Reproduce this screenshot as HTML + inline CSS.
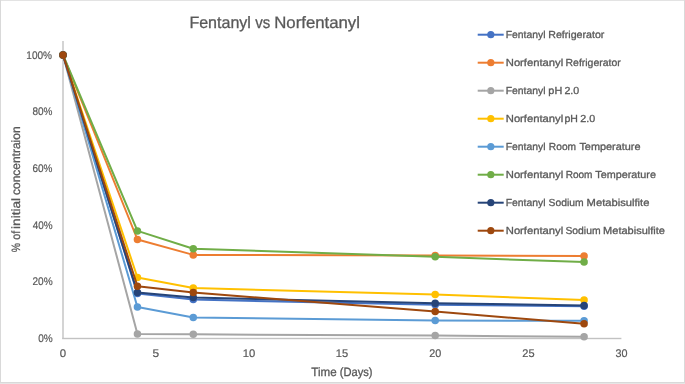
<!DOCTYPE html><html><head><meta charset="utf-8"><title>Fentanyl vs Norfentanyl</title><style>
html,body{margin:0;padding:0;background:#fff;width:685px;height:384px;overflow:hidden}
svg{display:block;position:absolute;left:0;top:0;text-rendering:geometricPrecision}
text{font-family:'Liberation Sans', Arial, sans-serif;fill:#595959;stroke:#595959;stroke-width:0.3px}
</style></head><body>
<svg width="685" height="384" viewBox="0 0 685 384">
<rect x="0" y="0" width="685" height="384" fill="#fff"/>
<rect x="0" y="0" width="685" height="1" fill="#e3e3e3"/>
<rect x="0" y="0" width="1" height="384" fill="#d9d9d9"/>
<rect x="684" y="0" width="1" height="384" fill="#d9d9d9"/>
<rect x="0" y="382" width="685" height="1" fill="#d9d9d9"/>
<rect x="0" y="383" width="685" height="1" fill="#e6e6e6"/>
<rect x="62.1" y="41" width="1.8" height="297.5" fill="#d0d0d0"/>
<rect x="62.1" y="337.8" width="559.3" height="1.4" fill="#c2c2c2"/>
<text x="189.40" y="28.00" font-size="16.5" textLength="61.55" lengthAdjust="spacingAndGlyphs">Fentanyl</text>
<text x="255.20" y="28.00" font-size="16.5" textLength="15.04" lengthAdjust="spacingAndGlyphs">vs</text>
<text x="274.26" y="28.00" font-size="16.5" textLength="85.73" lengthAdjust="spacingAndGlyphs">Norfentanyl</text>
<text x="505.77" y="38.00" font-size="10.2" textLength="39.73" lengthAdjust="spacingAndGlyphs">Fentanyl</text>
<text x="548.20" y="38.00" font-size="10.2" textLength="56.22" lengthAdjust="spacingAndGlyphs">Refrigerator</text>
<text x="505.77" y="66.00" font-size="10.2" textLength="57.45" lengthAdjust="spacingAndGlyphs">Norfentanyl</text>
<text x="565.57" y="66.00" font-size="10.2" textLength="55.17" lengthAdjust="spacingAndGlyphs">Refrigerator</text>
<text x="505.77" y="94.00" font-size="10.2" textLength="39.73" lengthAdjust="spacingAndGlyphs">Fentanyl</text>
<text x="548.39" y="94.00" font-size="10.2" textLength="13.90" lengthAdjust="spacingAndGlyphs">pH</text>
<text x="564.42" y="94.00" font-size="10.2" textLength="14.79" lengthAdjust="spacingAndGlyphs">2.0</text>
<text x="505.77" y="122.00" font-size="10.2" textLength="57.45" lengthAdjust="spacingAndGlyphs">Norfentanyl</text>
<text x="564.41" y="122.00" font-size="10.2" textLength="13.45" lengthAdjust="spacingAndGlyphs">pH</text>
<text x="580.38" y="122.00" font-size="10.2" textLength="14.87" lengthAdjust="spacingAndGlyphs">2.0</text>
<text x="505.77" y="150.00" font-size="10.2" textLength="39.73" lengthAdjust="spacingAndGlyphs">Fentanyl</text>
<text x="548.87" y="150.00" font-size="10.2" textLength="27.18" lengthAdjust="spacingAndGlyphs">Room</text>
<text x="579.42" y="150.00" font-size="10.2" textLength="61.14" lengthAdjust="spacingAndGlyphs">Temperature</text>
<text x="505.77" y="178.00" font-size="10.2" textLength="57.45" lengthAdjust="spacingAndGlyphs">Norfentanyl</text>
<text x="565.66" y="178.00" font-size="10.2" textLength="26.84" lengthAdjust="spacingAndGlyphs">Room</text>
<text x="595.35" y="178.00" font-size="10.2" textLength="60.59" lengthAdjust="spacingAndGlyphs">Temperature</text>
<text x="505.77" y="206.00" font-size="10.2" textLength="39.73" lengthAdjust="spacingAndGlyphs">Fentanyl</text>
<text x="548.54" y="206.00" font-size="10.2" textLength="35.01" lengthAdjust="spacingAndGlyphs">Sodium</text>
<text x="586.64" y="206.00" font-size="10.2" textLength="62.74" lengthAdjust="spacingAndGlyphs">Metabisulfite</text>
<text x="505.77" y="234.00" font-size="10.2" textLength="57.45" lengthAdjust="spacingAndGlyphs">Norfentanyl</text>
<text x="565.42" y="234.00" font-size="10.2" textLength="35.14" lengthAdjust="spacingAndGlyphs">Sodium</text>
<text x="603.14" y="234.00" font-size="10.2" textLength="61.78" lengthAdjust="spacingAndGlyphs">Metabisulfite</text>
<text x="26.36" y="59.00" font-size="11" textLength="25.70" lengthAdjust="spacingAndGlyphs" style="stroke-width:0.2px">100%</text>
<text x="32.39" y="115.00" font-size="11" textLength="19.98" lengthAdjust="spacingAndGlyphs" style="stroke-width:0.2px">80%</text>
<text x="32.48" y="172.00" font-size="11" textLength="19.96" lengthAdjust="spacingAndGlyphs" style="stroke-width:0.2px">60%</text>
<text x="32.65" y="229.00" font-size="11" textLength="19.87" lengthAdjust="spacingAndGlyphs" style="stroke-width:0.2px">40%</text>
<text x="32.46" y="285.00" font-size="11" textLength="20.17" lengthAdjust="spacingAndGlyphs" style="stroke-width:0.2px">20%</text>
<text x="38.26" y="342.00" font-size="11" textLength="14.50" lengthAdjust="spacingAndGlyphs" style="stroke-width:0.2px">0%</text>
<text x="59.85" y="357.00" font-size="11" textLength="6.36" lengthAdjust="spacingAndGlyphs" style="stroke-width:0.2px">0</text>
<text x="152.61" y="357.00" font-size="11" textLength="6.64" lengthAdjust="spacingAndGlyphs" style="stroke-width:0.2px">5</text>
<text x="242.70" y="357.00" font-size="11" textLength="12.52" lengthAdjust="spacingAndGlyphs" style="stroke-width:0.2px">10</text>
<text x="335.87" y="357.00" font-size="11" textLength="12.39" lengthAdjust="spacingAndGlyphs" style="stroke-width:0.2px">15</text>
<text x="429.22" y="357.00" font-size="11" textLength="12.05" lengthAdjust="spacingAndGlyphs" style="stroke-width:0.2px">20</text>
<text x="522.26" y="357.00" font-size="11" textLength="12.27" lengthAdjust="spacingAndGlyphs" style="stroke-width:0.2px">25</text>
<text x="615.39" y="357.00" font-size="11" textLength="12.02" lengthAdjust="spacingAndGlyphs" style="stroke-width:0.2px">30</text>
<text x="311.33" y="376.00" font-size="12" textLength="25.39" lengthAdjust="spacingAndGlyphs">Time</text>
<text x="339.77" y="376.00" font-size="12" textLength="32.83" lengthAdjust="spacingAndGlyphs">(Days)</text>
<text transform="translate(19.60,252.22) rotate(-90)" x="0" y="0" font-size="12" textLength="9.22" lengthAdjust="spacingAndGlyphs">%</text>
<text transform="translate(19.60,239.72) rotate(-90)" x="0" y="0" font-size="12" textLength="8.88" lengthAdjust="spacingAndGlyphs">of</text>
<text transform="translate(19.60,228.91) rotate(-90)" x="0" y="0" font-size="12" textLength="30.90" lengthAdjust="spacingAndGlyphs">initial</text>
<text transform="translate(19.60,195.01) rotate(-90)" x="0" y="0" font-size="12" textLength="68.58" lengthAdjust="spacingAndGlyphs">concentraion</text>
<polyline points="63.00,55.00 137.44,293.60 193.27,299.60 435.20,304.80 584.08,306.20" fill="none" stroke="#4472C4" stroke-width="2.00" stroke-linejoin="round" stroke-linecap="round"/>
<circle cx="63.00" cy="55.00" r="3.75" fill="#4472C4"/>
<circle cx="137.44" cy="293.60" r="3.75" fill="#4472C4"/>
<circle cx="193.27" cy="299.60" r="3.75" fill="#4472C4"/>
<circle cx="435.20" cy="304.80" r="3.75" fill="#4472C4"/>
<circle cx="584.08" cy="306.20" r="3.75" fill="#4472C4"/>
<polyline points="63.00,55.00 137.44,239.50 193.27,254.90 435.20,255.60 584.08,256.10" fill="none" stroke="#ED7D31" stroke-width="2.00" stroke-linejoin="round" stroke-linecap="round"/>
<circle cx="63.00" cy="55.00" r="3.75" fill="#ED7D31"/>
<circle cx="137.44" cy="239.50" r="3.75" fill="#ED7D31"/>
<circle cx="193.27" cy="254.90" r="3.75" fill="#ED7D31"/>
<circle cx="435.20" cy="255.60" r="3.75" fill="#ED7D31"/>
<circle cx="584.08" cy="256.10" r="3.75" fill="#ED7D31"/>
<polyline points="63.00,55.00 137.44,333.90 193.27,334.30 435.20,335.60 584.08,336.70" fill="none" stroke="#A5A5A5" stroke-width="2.00" stroke-linejoin="round" stroke-linecap="round"/>
<circle cx="63.00" cy="55.00" r="3.75" fill="#A5A5A5"/>
<circle cx="137.44" cy="333.90" r="3.75" fill="#A5A5A5"/>
<circle cx="193.27" cy="334.30" r="3.75" fill="#A5A5A5"/>
<circle cx="435.20" cy="335.60" r="3.75" fill="#A5A5A5"/>
<circle cx="584.08" cy="336.70" r="3.75" fill="#A5A5A5"/>
<polyline points="63.00,55.00 137.44,277.50 193.27,288.00 435.20,294.60 584.08,300.10" fill="none" stroke="#FFC000" stroke-width="2.00" stroke-linejoin="round" stroke-linecap="round"/>
<circle cx="63.00" cy="55.00" r="3.75" fill="#FFC000"/>
<circle cx="137.44" cy="277.50" r="3.75" fill="#FFC000"/>
<circle cx="193.27" cy="288.00" r="3.75" fill="#FFC000"/>
<circle cx="435.20" cy="294.60" r="3.75" fill="#FFC000"/>
<circle cx="584.08" cy="300.10" r="3.75" fill="#FFC000"/>
<polyline points="63.00,55.00 137.44,307.00 193.27,317.60 435.20,320.50 584.08,320.80" fill="none" stroke="#5B9BD5" stroke-width="2.00" stroke-linejoin="round" stroke-linecap="round"/>
<circle cx="63.00" cy="55.00" r="3.75" fill="#5B9BD5"/>
<circle cx="137.44" cy="307.00" r="3.75" fill="#5B9BD5"/>
<circle cx="193.27" cy="317.60" r="3.75" fill="#5B9BD5"/>
<circle cx="435.20" cy="320.50" r="3.75" fill="#5B9BD5"/>
<circle cx="584.08" cy="320.80" r="3.75" fill="#5B9BD5"/>
<polyline points="63.00,55.00 137.44,230.90 193.27,248.70 435.20,256.80 584.08,262.10" fill="none" stroke="#70AD47" stroke-width="2.00" stroke-linejoin="round" stroke-linecap="round"/>
<circle cx="63.00" cy="55.00" r="3.75" fill="#70AD47"/>
<circle cx="137.44" cy="230.90" r="3.75" fill="#70AD47"/>
<circle cx="193.27" cy="248.70" r="3.75" fill="#70AD47"/>
<circle cx="435.20" cy="256.80" r="3.75" fill="#70AD47"/>
<circle cx="584.08" cy="262.10" r="3.75" fill="#70AD47"/>
<polyline points="63.00,55.00 137.44,292.60 193.27,297.60 435.20,303.30 584.08,305.40" fill="none" stroke="#264478" stroke-width="2.00" stroke-linejoin="round" stroke-linecap="round"/>
<circle cx="63.00" cy="55.00" r="3.75" fill="#264478"/>
<circle cx="137.44" cy="292.60" r="3.75" fill="#264478"/>
<circle cx="193.27" cy="297.60" r="3.75" fill="#264478"/>
<circle cx="435.20" cy="303.30" r="3.75" fill="#264478"/>
<circle cx="584.08" cy="305.40" r="3.75" fill="#264478"/>
<polyline points="63.00,55.00 137.44,286.30 193.27,292.50 435.20,311.50 584.08,323.70" fill="none" stroke="#9E480E" stroke-width="2.00" stroke-linejoin="round" stroke-linecap="round"/>
<circle cx="63.00" cy="55.00" r="3.75" fill="#9E480E"/>
<circle cx="137.44" cy="286.30" r="3.75" fill="#9E480E"/>
<circle cx="193.27" cy="292.50" r="3.75" fill="#9E480E"/>
<circle cx="435.20" cy="311.50" r="3.75" fill="#9E480E"/>
<circle cx="584.08" cy="323.70" r="3.75" fill="#9E480E"/>
<line x1="477.7" y1="34.70" x2="503.7" y2="34.70" stroke="#4472C4" stroke-width="2"/>
<circle cx="490.8" cy="34.70" r="3.6" fill="#4472C4"/>
<line x1="477.7" y1="62.70" x2="503.7" y2="62.70" stroke="#ED7D31" stroke-width="2"/>
<circle cx="490.8" cy="62.70" r="3.6" fill="#ED7D31"/>
<line x1="477.7" y1="90.70" x2="503.7" y2="90.70" stroke="#A5A5A5" stroke-width="2"/>
<circle cx="490.8" cy="90.70" r="3.6" fill="#A5A5A5"/>
<line x1="477.7" y1="118.70" x2="503.7" y2="118.70" stroke="#FFC000" stroke-width="2"/>
<circle cx="490.8" cy="118.70" r="3.6" fill="#FFC000"/>
<line x1="477.7" y1="146.70" x2="503.7" y2="146.70" stroke="#5B9BD5" stroke-width="2"/>
<circle cx="490.8" cy="146.70" r="3.6" fill="#5B9BD5"/>
<line x1="477.7" y1="174.70" x2="503.7" y2="174.70" stroke="#70AD47" stroke-width="2"/>
<circle cx="490.8" cy="174.70" r="3.6" fill="#70AD47"/>
<line x1="477.7" y1="202.70" x2="503.7" y2="202.70" stroke="#264478" stroke-width="2"/>
<circle cx="490.8" cy="202.70" r="3.6" fill="#264478"/>
<line x1="477.7" y1="230.70" x2="503.7" y2="230.70" stroke="#9E480E" stroke-width="2"/>
<circle cx="490.8" cy="230.70" r="3.6" fill="#9E480E"/>
</svg></body></html>
